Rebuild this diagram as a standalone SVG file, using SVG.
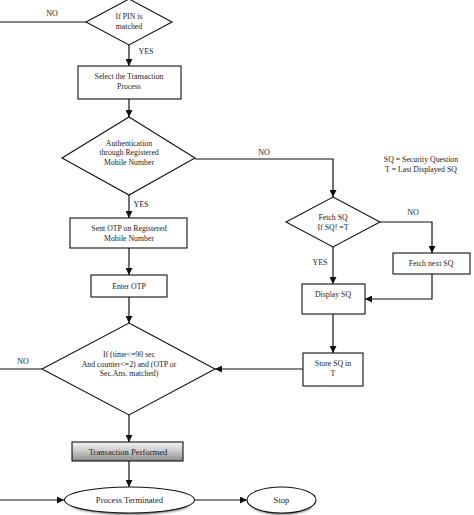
<svg xmlns="http://www.w3.org/2000/svg" width="474" height="515" viewBox="0 0 474 515">
<style>
.s{fill:#fff;stroke:#111;stroke-width:1.1}
.c{fill:none;stroke:#111;stroke-width:1.2}
text{font-family:"Liberation Serif","Times New Roman",serif;font-size:7.8px;fill:#222;text-anchor:middle}
.l{font-size:8px}
</style>
<defs>
<marker id="a" viewBox="0 0 10 10" refX="10" refY="5" markerWidth="7" markerHeight="7" markerUnits="userSpaceOnUse" orient="auto">
<path d="M0,0 L10,5 L0,10 z" fill="#111"/>
</marker>
<linearGradient id="g" x1="0" y1="0" x2="0" y2="1">
<stop offset="0" stop-color="#f4f4f4"/>
<stop offset="0.5" stop-color="#c8c8c8"/>
<stop offset="1" stop-color="#8a8a8a"/>
</linearGradient>
<filter id="b" x="-20%" y="-50%" width="140%" height="200%"><feGaussianBlur stdDeviation="1.5"/></filter>
</defs>

<g id="connectors">
<path class="c" d="M129,-5 V0" marker-end="url(#a)"/>
<path class="c" d="M86,22 H0"/>
<path class="c" d="M129,45 V66" marker-end="url(#a)"/>
<path class="c" d="M129,99 V117" marker-end="url(#a)"/>
<path class="c" d="M195,159 H333 V197" marker-end="url(#a)"/>
<path class="c" d="M129,195 V218" marker-end="url(#a)"/>
<path class="c" d="M129,248 V275" marker-end="url(#a)"/>
<path class="c" d="M129,297 V323" marker-end="url(#a)"/>
<path class="c" d="M380,222 H432 V253" marker-end="url(#a)"/>
<path class="c" d="M333,247 V284" marker-end="url(#a)"/>
<path class="c" d="M432,274 V299 H365" marker-end="url(#a)"/>
<path class="c" d="M333,314 V353" marker-end="url(#a)"/>
<path class="c" d="M303,369 H215" marker-end="url(#a)"/>
<path class="c" d="M42,369 H0"/>
<path class="c" d="M129,415 V442" marker-end="url(#a)"/>
<path class="c" d="M129,461 V487" marker-end="url(#a)"/>
<path class="c" d="M0,500 H64" marker-end="url(#a)"/>
<path class="c" d="M195,500 H247" marker-end="url(#a)"/>
<text class="l" x="52" y="16">NO</text>
<text class="l" x="146" y="54">YES</text>
<text class="l" x="264" y="155">NO</text>
<text class="l" x="141" y="207">YES</text>
<text class="l" x="413" y="215">NO</text>
<text class="l" x="320" y="265">YES</text>
<text class="l" x="23" y="364">NO</text>
</g>

<g id="pin">
<polygon class="s" points="129,-1 172,22 129,45 86,22"/>
<text x="129" y="19">If PIN is</text>
<text x="129" y="29">matched</text>
</g>

<g id="select">
<rect class="s" x="78" y="66" width="103" height="33"/>
<text x="129" y="79">Select the Transaction</text>
<text x="129" y="89">Process</text>
</g>

<g id="auth">
<polygon class="s" points="129,117 195,158 129,195 62,158"/>
<text x="129" y="146">Authentication</text>
<text x="129" y="155">through Registered</text>
<text x="129" y="165">Mobile Number</text>
</g>

<g id="sentotp">
<rect class="s" x="70" y="218" width="117" height="30"/>
<text x="129" y="231">Sent OTP on Registered</text>
<text x="129" y="241">Mobile Number</text>
</g>

<g id="enterotp">
<rect class="s" x="91" y="275" width="76" height="22"/>
<text x="129" y="289">Enter OTP</text>
</g>

<g id="fetchsq">
<polygon class="s" points="333,197 380,222 333,247 286,222"/>
<text x="333" y="220">Fetch SQ</text>
<text x="333" y="230">If SQ! =T</text>
</g>

<g id="fetchnext">
<rect class="s" x="393" y="253" width="77" height="21"/>
<text x="431" y="266">Fetch next SQ</text>
</g>

<g id="display">
<rect class="s" x="302" y="284" width="63" height="30"/>
<text x="333" y="297">Display SQ</text>
</g>

<g id="store">
<rect class="s" x="303" y="353" width="60" height="33"/>
<text x="333" y="366">Store SQ in</text>
<text x="333" y="376">T</text>
</g>

<g id="check">
<polygon class="s" points="129,323 215,369 129,415 42,369"/>
<text x="129" y="357">If (time&lt;=90 sec</text>
<text x="129" y="367">And counter&lt;=2) and (OTP or</text>
<text x="129" y="376">Sec.Ans. matched)</text>
</g>

<g id="performed">
<rect x="72" y="442" width="111" height="19" fill="url(#g)" stroke="#111" stroke-width="1.1"/>
<text x="128" y="455" style="font-size:8.6px">Transaction Performed</text>
</g>

<g id="terminated">
<ellipse cx="130" cy="503" rx="60" ry="11" fill="#222" filter="url(#b)"/>
<ellipse class="s" cx="129.5" cy="500" rx="65" ry="13"/>
<text x="129.5" y="503" style="font-size:8.6px">Process Terminated</text>
</g>

<g id="stop">
<ellipse cx="282" cy="503" rx="31" ry="11" fill="#222" filter="url(#b)"/>
<ellipse class="s" cx="281.5" cy="500" rx="34.5" ry="13"/>
<text x="281.5" y="503" style="font-size:8.6px">Stop</text>
</g>

<g id="legend">
<text x="421" y="162">SQ = Security Question</text>
<text x="421" y="172">T = Last Displayed SQ</text>
</g>
</svg>
